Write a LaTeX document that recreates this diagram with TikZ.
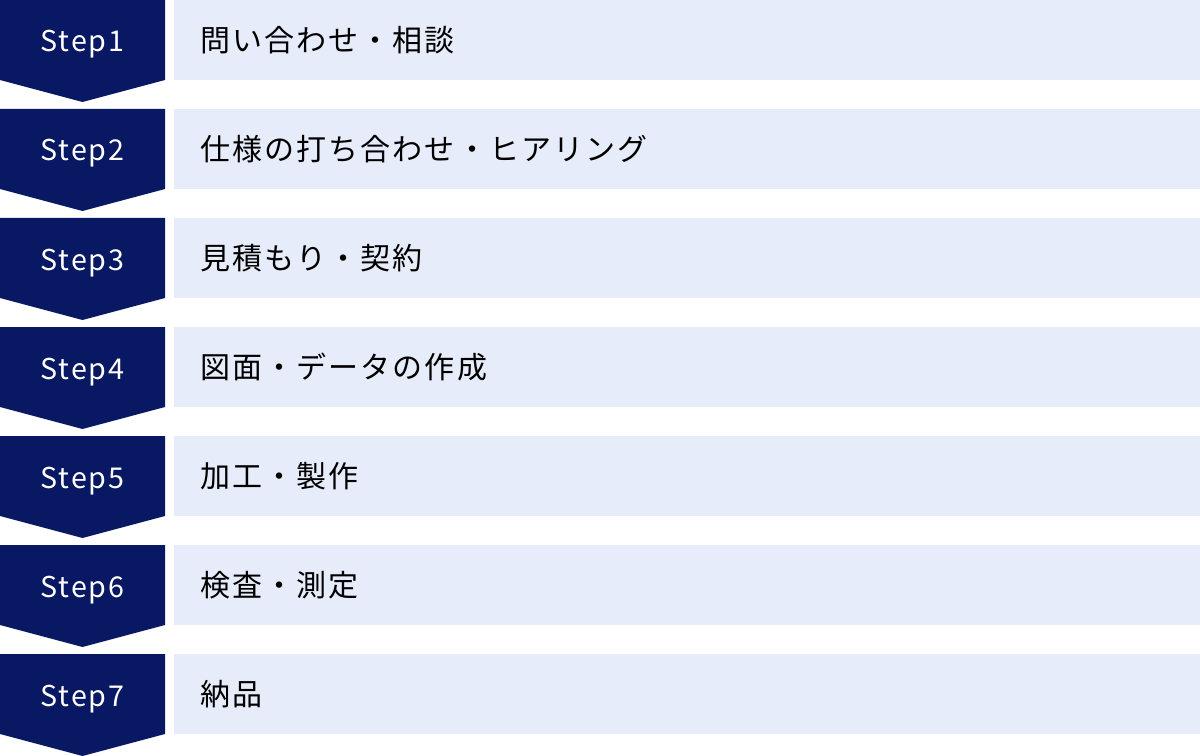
\documentclass[tikz,border=0pt]{standalone}
\usepackage{fontspec}
\setmainfont{Noto Sans CJK JP}
\newfontfamily\spacedfont[LetterSpace=7]{Noto Sans CJK JP}
\definecolor{stepnavy}{HTML}{081862}
\definecolor{tasklight}{HTML}{E6ECF9}
\tikzset{
  steplabel/.style={text=white, inner sep=0pt, anchor=base, font=\spacedfont\fontsize{21.5pt}{24pt}\selectfont},
  tasklabel/.style={text=black, inner sep=0pt, anchor=base west, font=\spacedfont\fontsize{22.5pt}{26pt}\selectfont}
}

\begin{document}
\begin{tikzpicture}[x=0.75pt, y=-0.75pt]
\useasboundingbox (0,0) rectangle (1200,756);
\foreach \i/\task in {1/問い合わせ・相談, 2/仕様の打ち合わせ・ヒアリング, 3/見積もり・契約, 4/図面・データの作成, 5/加工・製作, 6/検査・測定, 7/納品}{
  \pgfmathsetmacro{\top}{109*(\i-1)}
  \fill[stepnavy] (0,\top) -- (165,\top) -- (165,\top+80) -- (82.5,\top+102) -- (0,\top+80) -- cycle;
  \fill[tasklight] (174,\top) rectangle (1200,\top+80);
  \node[steplabel] (step\i) at (82.5,\top+52) {Step\i};
  \node[tasklabel] (task\i) at (200,\top+51.5) {\task};
}
\end{tikzpicture}
\end{document}
